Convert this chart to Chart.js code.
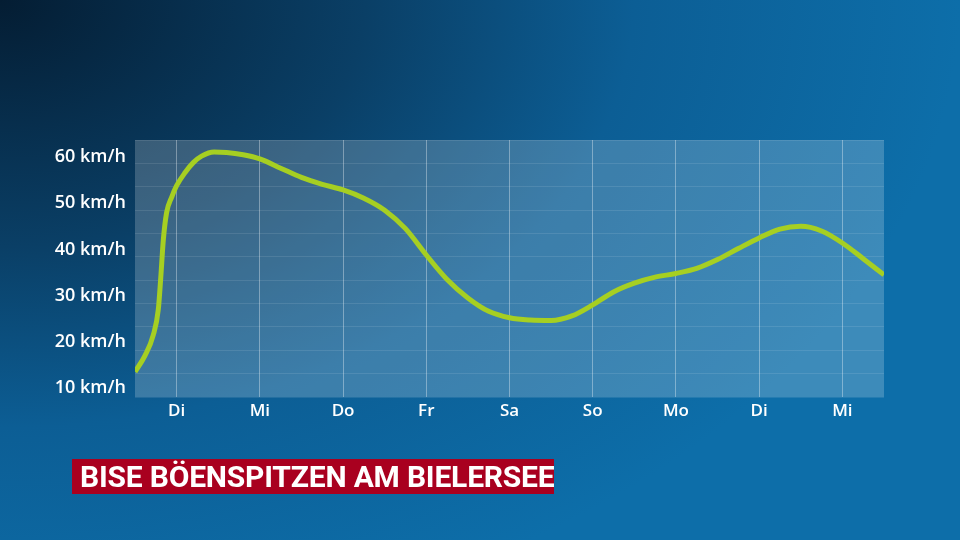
<!DOCTYPE html>
<html>
<head>
<meta charset="utf-8">
<script src="https://cdn.jsdelivr.net/npm/chart.js@4/dist/chart.umd.min.js"></script>
<style>
  html, body { margin: 0; padding: 0; }
  body {
    width: 960px; height: 540px; overflow: hidden; position: relative;
    background: radial-gradient(ellipse 100% 120% at 0% 0%, #041d33 0%, #0a3f66 38%, #0c5e95 66%, #0d6ea9 100%);
  }
  #wrap { position: absolute; left: 0; top: 0; width: 960px; height: 540px; }
  #title {
    position: absolute; left: 72px; top: 459px; height: 35px; width: 482px;
    background: #a9001f; color: #fff;
    font-family: Roboto, "Noto Sans", sans-serif; font-weight: 700; font-size: 30px;
    line-height: 35px; padding-left: 8px; box-sizing: border-box; white-space: nowrap;
    letter-spacing: -0.2px;
  }
</style>
</head>
<body>
<div id="wrap"><canvas id="chart" width="960" height="540"></canvas></div>
<div id="title">BISE BÖENSPITZEN AM BIELERSEE</div>
<script>
// days: 0 = Di, position in days
const dayLabels = ["Di", "Mi", "Do", "Fr", "Sa", "So", "Mo", "Di", "Mi"];
const yTicks = [10, 20, 30, 40, 50, 60];

const times = [-0.5, -0.38, -0.28, -0.22, -0.19, -0.16, -0.12, -0.06, 0, 0.1, 0.2, 0.3, 0.45, 0.6, 0.8,
  1.0, 1.25, 1.5, 1.75, 2.0, 2.25, 2.5, 2.75, 3.0, 3.25, 3.5, 3.75, 4.0, 4.25, 4.5, 4.75,
  5.0, 5.25, 5.5, 5.75, 6.0, 6.25, 6.5, 6.75, 7.0, 7.25, 7.5, 7.75, 8.0, 8.25, 8.5];
const gusts = [13.5, 17, 21.5, 27, 34, 42, 48, 51.3, 53.8, 56.6, 58.8, 60.2, 61.1, 61, 60.5,
  59.6, 57.6, 55.6, 54.1, 52.9, 51.1, 48.5, 44.5, 38.8, 33.5, 29.5, 26.6, 25.2, 24.7, 24.6, 25.6,
  28, 30.8, 32.7, 34, 34.8, 35.9, 37.8, 40.2, 42.5, 44.4, 45, 44, 41.4, 38, 34.5];

const plotBg = {
  id: "plotBg",
  beforeDraw(chart) {
    const a = chart.chartArea, ctx = chart.ctx;
    ctx.save();
    ctx.fillStyle = "rgba(255,255,255,0.2)";
    ctx.fillRect(a.left, a.top, a.right - a.left, a.bottom - a.top);
    ctx.restore();
  }
};

const font = { family: "'Open Sans', Roboto, sans-serif", weight: "600" };

new Chart(document.getElementById("chart"), {
  type: "line",
  data: {
    datasets: [{
      data: times.map((t, i) => ({ x: t, y: gusts[i] })),
      borderColor: "#a6cf22",
      borderWidth: 5,
      pointRadius: 0,
      cubicInterpolationMode: "monotone",
      fill: false,
    }],
  },
  options: {
    responsive: false,
    animation: false,
    layout: { padding: { top: 140, left: 0, right: 0, bottom: 0 } },
    plugins: { legend: { display: false }, tooltip: { enabled: false } },
    scales: {
      x: {
        type: "linear", min: -0.5, max: 8.5,
        afterBuildTicks: (s) => { s.ticks = dayLabels.map((d, i) => ({ value: i })); },
        afterFit: (s) => { s.height = 143; },
        ticks: {
          color: "#ffffff", padding: 4,
          font: { ...font, size: 17 },
          callback: (v) => dayLabels[v],
        },
        grid: { color: "rgba(255,255,255,0.35)", lineWidth: 1, drawTicks: false },
        border: { display: false },
      },
      y: {
        min: 8.05, max: 63.7,
        afterBuildTicks: (s) => { s.ticks = yTicks.map((v) => ({ value: v })); },
        afterFit: (s) => { s.width = 135; },
        ticks: {
          color: "#ffffff", padding: 9,
          font: { ...font, size: 18 },
          callback: (v) => v + " km/h",
        },
        grid: { display: false, drawTicks: false },
        border: { display: false },
      },
      y2: {
        position: "right", min: 0, max: 11,
        ticks: { display: false, stepSize: 1 },
        afterFit: (s) => { s.width = 76; },
        grid: { color: "rgba(255,255,255,0.1)", lineWidth: 1, drawTicks: false },
        border: { display: false },
      },
    },
  },
  plugins: [plotBg],
});
</script>
</body>
</html>
